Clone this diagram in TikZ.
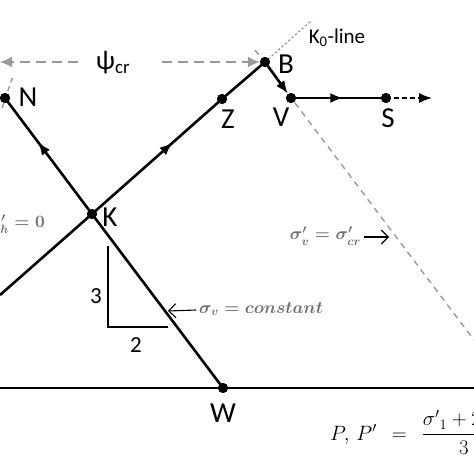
\documentclass[tikz,border=0pt]{standalone}
\usepackage{amsmath,bm}
\usepackage[no-math]{fontspec}
\setmainfont{Carlito}
\usetikzlibrary{arrows.meta,decorations.markings}
\definecolor{lgray}{HTML}{9A9A9A}
\definecolor{mgray}{HTML}{6E6E6E}
\tikzset{
  mainline/.style={line width=2.6pt, black},
  ptdot/.style={circle, fill=black, inner sep=0pt, minimum size=10pt},
  lbl/.style={font=\fontsize{29}{32}\selectfont, inner sep=0pt},
  midarrow/.style={postaction={decorate}, decoration={markings,
      mark=at position #1 with {\arrow{Latex[length=13pt,width=10pt]}}}},
  grayd/.style={lgray, line width=1.6pt, dash pattern=on 10pt off 6pt},
  grayarrow/.style={-{Latex[length=12pt,width=11pt]}},
  glabel/.style={mgray, inner sep=0pt, font=\fontsize{17}{20}\selectfont\boldmath},
  pointer/.style={black, line width=1.1pt, -{Straight Barb[length=7pt,width=14pt]}},
}
\begin{document}
\begin{tikzpicture}[x=1pt,y=-1pt]
\useasboundingbox (0,0) rectangle (474,474);
\clip (0,0) rectangle (474,474);

% points
\coordinate (L) at (0,295);
\coordinate (E) at (432,98);
\node[ptdot] (N) at (5,98) {};
\node[ptdot] (K) at (92,214) {};
\node[ptdot] (W) at (223,388) {};
\node[ptdot] (Z) at (222,99) {};
\node[ptdot] (B) at (265,62) {};
\node[ptdot] (V) at (291,98) {};
\node[ptdot] (S) at (386,98) {};

% gray guide lines
\coordinate (g1) at (255,50);
\coordinate (g2) at (474,340);
\draw[lgray, line width=1.4pt, dash pattern=on 6pt off 5pt] (g1) -- (g2);
\coordinate (k0end) at (312,20);
\draw[lgray, line width=1.4pt, dash pattern=on 2pt off 2.5pt] (B.center) -- (k0end);
\coordinate (n1) at (2,108);
\coordinate (n2) at (13,76);
\draw[lgray, line width=1.4pt, dash pattern=on 5pt off 4pt] (n1) -- (n2);

% psi_cr
\node[inner sep=0pt, font=\fontsize{27}{30}\selectfont] (psi) at (113,63) {ψ\textsubscript{cr}};
\coordinate (psiA) at (78,62);
\coordinate (psiB) at (162,62);
\coordinate (psiL) at (0,62);
\draw[grayd, grayarrow] (psiA) -- (psiL);
\draw[grayd, grayarrow] (psiB) -- (B.west);

% main lines
\draw[mainline] (L) -- (K.center);
\draw[mainline, midarrow=0.62] (K.center) -- (Z.center);
\draw[mainline] (Z.center) -- (B.center);
\draw[mainline, midarrow=0.62] (K.center) -- (N.center);
\draw[mainline] (K.center) -- (W.center);
\draw[mainline, -{Latex[length=13pt,width=10pt]}] (B.center) -- (V);
\draw[mainline, midarrow=0.55] (V.center) -- (S.center);
\draw[black, line width=1.6pt, dash pattern=on 5pt off 3pt, -{Latex[length=13pt,width=10pt]}] (S.center) -- (E);

% axis
\coordinate (axL) at (0,388);
\coordinate (axR) at (474,388);
\draw[black, line width=1.8pt] (axL) -- (axR);

% dots on top
\foreach \p in {N,K,W,Z,B,V,S} \fill (\p) circle (5pt);

% labels
\node[lbl] (lN) at (28,97) {N};
\node[lbl] (lK) at (110,217) {K};
\node[lbl] (lZ) at (228,119) {Z};
\node[lbl] (lB) at (286,64) {B};
\node[lbl] (lV) at (281,117) {V};
\node[lbl] (lS) at (388,118) {S};
\node[lbl] (lW) at (223,413) {W};
\node[inner sep=0pt, font=\fontsize{21}{24}\selectfont] (k0) at (337,38) {K\textsubscript{0}-line};

% slope triangle
\coordinate (t1) at (108,246);
\coordinate (t2) at (108,327);
\coordinate (t3) at (168,327);
\draw[black, line width=1.2pt] (t1) -- (t2) -- (t3);
\node[inner sep=0pt, font=\fontsize{23}{26}\selectfont] (n3) at (96,296) {3};
\node[inner sep=0pt, font=\fontsize{23}{26}\selectfont] (n2l) at (136,345) {2};

% gray math labels
\node[glabel, anchor=east] (sh) at (45,224) {$\sigma'_h = 0$};
\node[glabel, anchor=west] (sv) at (199,309) {$\sigma_v = constant$};
\coordinate (svtip) at (168,311);
\draw[pointer] (sv.west) ++(-3,1) coordinate (svtail) (svtail) -- (svtip);
\node[glabel, anchor=east] (scr) at (361,236) {$\sigma'_v = \sigma'_{cr}$};
\coordinate (scrtip) at (389,237);
\coordinate (scrtail) at (364,237);
\draw[pointer] (scrtail) -- (scrtip);

% formula
\node[inner sep=0pt, anchor=base west, font=\fontsize{20}{24}\selectfont] (PP) at (330,440)
  {$P,\,P'\mkern8mu=\mkern8mu\dfrac{\sigma'{}_1 + 2\sigma'{}_3}{3}$};
\end{tikzpicture}
\end{document}
